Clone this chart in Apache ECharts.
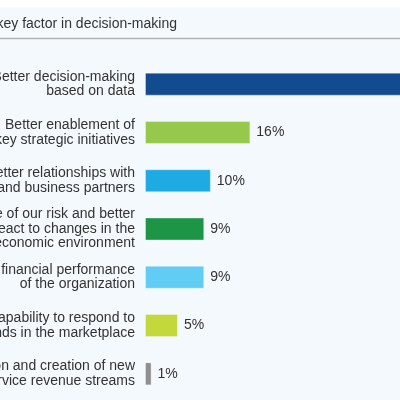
<!DOCTYPE html>
<html>
<head>
<meta charset="utf-8">
<script src="https://cdn.jsdelivr.net/npm/echarts@6/dist/echarts.min.js"></script>
<style>
html,body{margin:0;padding:0;background:#f3f9fd;overflow:hidden;}
#c{width:400px;height:400px;}
</style>
</head>
<body>
<div id="c"></div>
<script>
const titleText = "Using analytics as a key factor in decision-making";
const categories = [
  "Better decision-making\nbased on data",
  "Better enablement of\nkey strategic initiatives",
  "Better relationships with\ncustomers and business partners",
  "Better knowledge of our risk and better\nability to react to changes in the\nmacroeconomic environment",
  "Improved financial performance\nof the organization",
  "Improved capability to respond to\nchanging trends in the marketplace",
  "Innovation and creation of new\nproduct and service revenue streams"
];
const values = [50, 16, 10, 9, 9, 5, 1];
const colors = ["#124c8f", "#95c84b", "#1eaae2", "#1c9547", "#62cdf4", "#c3d83a", "#8e8e8e"];

const chart = echarts.init(document.getElementById('c'));
chart.setOption({
  backgroundColor: '#f3f9fd',
  animation: false,
  graphic: [
    {type:'rect', shape:{x:0,y:0,width:400,height:7.5}, style:{fill:'#ffffff'}},
    {type:'text', x:177, y:24, style:{text:titleText, align:'right', verticalAlign:'middle', font:'14px "Liberation Sans", Arial, sans-serif', fill:'#333'}},
    {type:'line', shape:{x1:0,y1:38.5,x2:400,y2:38.5}, style:{stroke:'#b2b2b2', lineWidth:1.5}}
  ],
  grid: {left:145, right:-140, top:60, bottom:2, containLabel:false, outerBoundsMode:'none'},
  xAxis: {type:'value', min:0, max:60, show:false},
  yAxis: {
    type:'category', data:categories, inverse:true,
    axisLine:{show:false}, axisTick:{show:false}, splitLine:{show:false},
    axisLabel:{fontSize:14, color:'#333', lineHeight:14.5, margin:10, fontFamily:'"Liberation Sans", Arial, sans-serif', align:'right'}
  },
  series: [{
    type:'bar', data: values.map((v,i)=>({value:v, itemStyle:{color:colors[i]}})),
    barWidth:23,
    itemStyle:{borderColor:'rgba(255,255,255,0.35)', borderWidth:1},
    label:{show:true, position:'right', distance:6, formatter:'{c}%', fontSize:14, color:'#333', fontFamily:'"Liberation Sans", Arial, sans-serif'}
  }]
});
</script>
</body>
</html>
